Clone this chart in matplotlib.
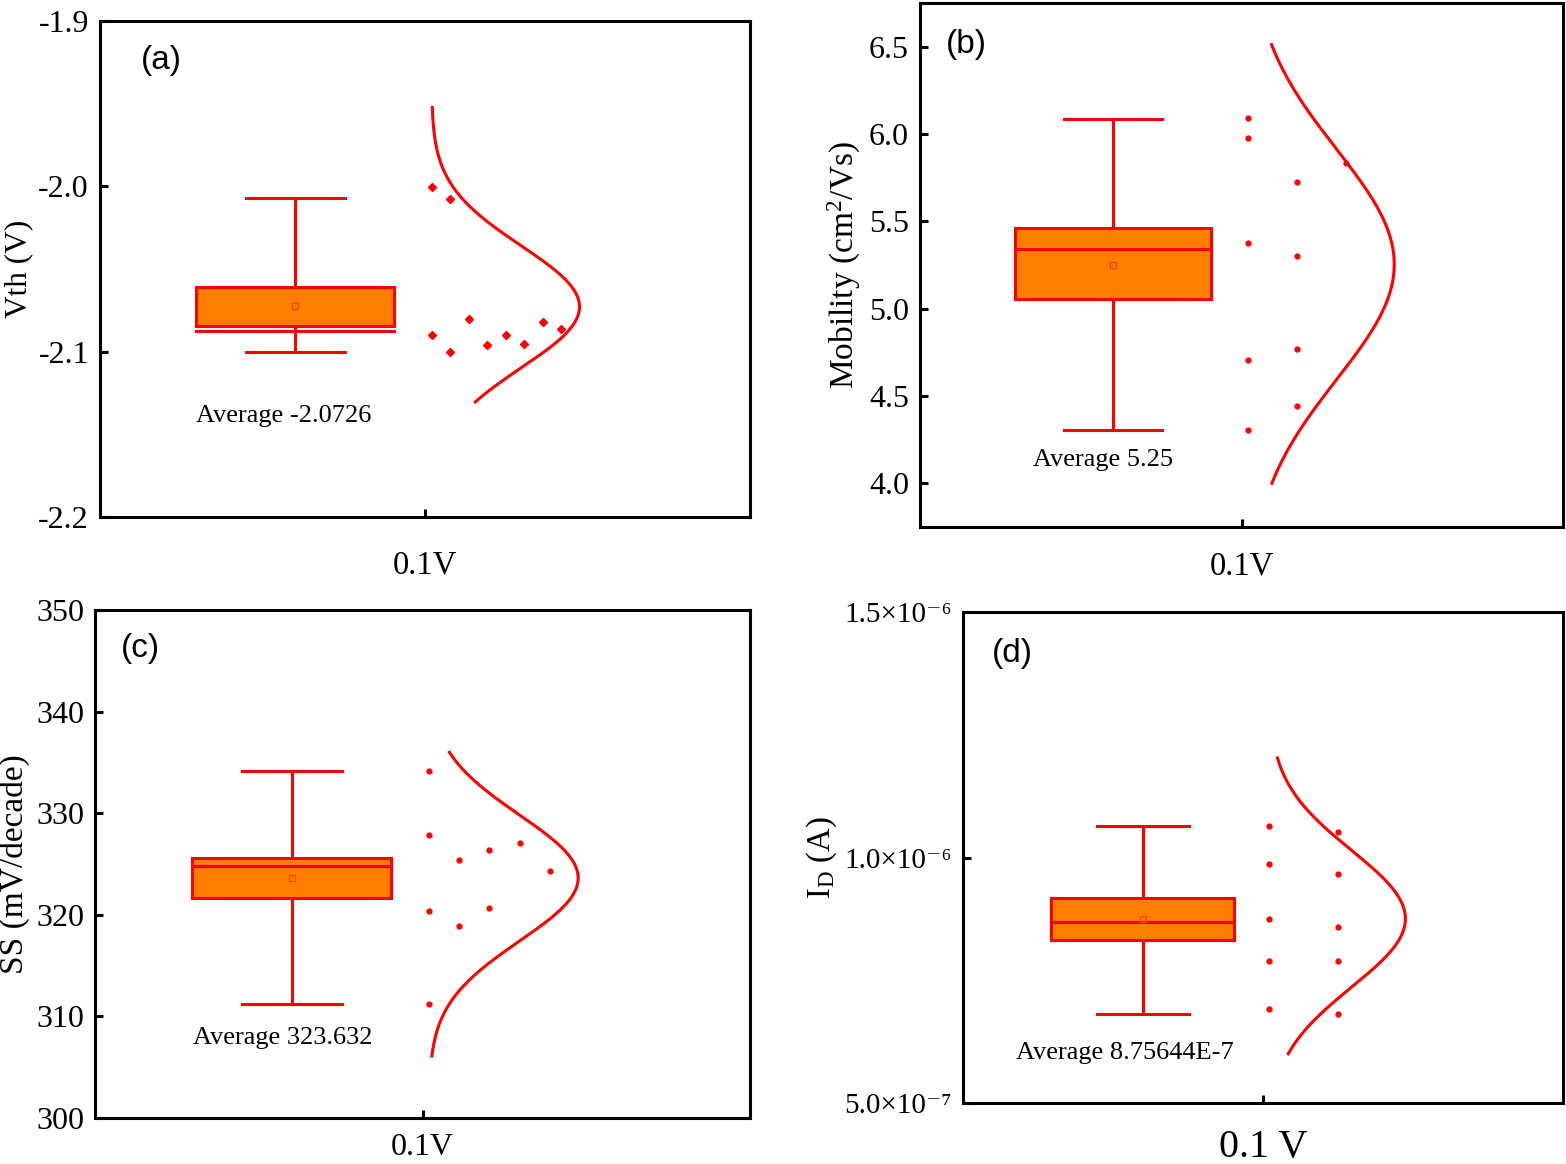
import numpy as np
import matplotlib
matplotlib.use('Agg')
import matplotlib.pyplot as plt

plt.rcParams['font.family'] = ['Liberation Serif', 'DejaVu Serif']
plt.rcParams['mathtext.fontset'] = 'custom'
plt.rcParams['mathtext.rm'] = 'Liberation Serif'
plt.rcParams['mathtext.it'] = 'Liberation Serif:italic'
plt.rcParams['mathtext.bf'] = 'Liberation Serif:bold'
plt.rcParams['axes.unicode_minus'] = False

category = "0.1V"
category_d = "0.1 V"

# ---- (a) Vth ----
vth_values = [-2.0004, -2.0074, -2.0801, -2.0901, -2.1002, -2.0961, -2.0901, -2.0952, -2.0823, -2.0863]
vth_columns = [0, 1, 2, 0, 1, 3, 4, 5, 6, 7]
vth_whisker = [-2.1002, -2.0072]
vth_box = [-2.0845, -2.0611]
vth_median = -2.0875
vth_mean = -2.0726
vth_curve_range = [-2.1304, -1.9523]
vth_yticks = [-2.2, -2.1, -2.0, -1.9]
vth_yticklabels = ["-2.2", "-2.1", "-2.0", "-1.9"]

# ---- (b) Mobility ----
mob_values = [6.090, 5.979, 5.835, 5.726, 5.377, 5.303, 4.767, 4.708, 4.442, 4.303]
mob_columns = [0, 0, 2, 1, 0, 1, 1, 0, 1, 0]
mob_whisker = [4.303, 6.088]
mob_box = [5.053, 5.459]
mob_median = 5.344
mob_mean = 5.25
mob_curve_range = [4.0, 6.511]
mob_yticks = [4.0, 4.5, 5.0, 5.5, 6.0, 6.5]
mob_yticklabels = ["4.0", "4.5", "5.0", "5.5", "6.0", "6.5"]

# ---- (c) SS ----
ss_values = [334.15, 327.82, 326.38, 327.04, 325.36, 324.28, 320.70, 320.37, 318.93, 311.22]
ss_columns = [0, 0, 2, 3, 1, 4, 2, 0, 1, 0]
ss_whisker = [311.22, 334.15]
ss_box = [321.65, 325.59]
ss_median = 324.8
ss_mean = 323.632
ss_curve_range = [306.1, 336.0]
ss_yticks = [300, 310, 320, 330, 340, 350]
ss_yticklabels = ["300", "310", "320", "330", "340", "350"]

# ---- (d) ID ----
id_values = [1.0649e-6, 1.0513e-6, 0.9864e-6, 0.9661e-6, 0.8757e-6, 0.8586e-6, 0.7884e-6, 0.7884e-6, 0.6917e-6, 0.6815e-6]
id_columns = [0, 1, 0, 1, 0, 1, 0, 1, 0, 1]
id_whisker = [0.6815e-6, 1.0649e-6]
id_box = [0.8316e-6, 0.9168e-6]
id_median = 0.8682e-6
id_mean = 0.875644e-6
id_curve_range = [0.6004e-6, 1.2028e-6]
id_yticks = [5.0e-7, 1.0e-6, 1.5e-6]
id_yticklabels = ["5.0\u00d710\u207b\u2077", "1.0\u00d710\u207b\u2076", "1.5\u00d710\u207b\u2076"]

RED = '#FF0000'
ORANGE = '#FF8000'
LW = 2.2

fig = plt.figure(figsize=(15.66, 11.64), dpi=100)


def panel(rect, values, columns, col_step, whisker, box, median, mean, curve_range,
          ylim, yticks, yticklabels, ylabel, ylabel_size, letter, avg_text, avg_pos, letter_pos,
          marker, msize, xlabel, xlabel_size, xpad, ytick_size=23):
    ax = fig.add_axes(rect)
    ax.set_xlim(0, 2)
    ax.set_ylim(*ylim)
    xc = 0.6
    bw = 0.61
    # whisker
    ax.plot([xc, xc], [whisker[0], box[0]], color=RED, lw=LW, zorder=2, solid_capstyle='butt')
    ax.plot([xc, xc], [box[1], whisker[1]], color=RED, lw=LW, zorder=2, solid_capstyle='butt')
    ax.plot([xc - bw / 4, xc + bw / 4], [whisker[0]] * 2, color=RED, lw=LW, zorder=2)
    ax.plot([xc - bw / 4, xc + bw / 4], [whisker[1]] * 2, color=RED, lw=LW, zorder=2)
    # box
    rectp = plt.Rectangle((xc - bw / 2, box[0]), bw, box[1] - box[0], facecolor=ORANGE,
                          edgecolor=RED, lw=LW, zorder=3)
    ax.add_patch(rectp)
    ax.plot([xc - bw / 2, xc + bw / 2], [median] * 2, color=RED, lw=LW, zorder=4)
    ax.plot([xc], [mean], marker='s', ms=5, mfc='none', mec='#FF4000', mew=1.0, zorder=5)
    # points
    vals = np.array(values)
    xs = 1.02 + col_step * np.array(columns)
    ax.plot(xs, vals, linestyle='none', marker=marker, ms=msize, color=RED, mec=RED, zorder=4)
    # normal curve
    mu = vals.mean()
    sd = vals.std(ddof=1)
    yy = np.linspace(curve_range[0], curve_range[1], 300)
    xx = 1.02 + 0.455 * np.exp(-0.5 * ((yy - mu) / sd) ** 2)
    ax.plot(xx, yy, color=RED, lw=LW, zorder=4)
    # axes styling
    ax.set_xticks([1])
    ax.set_xticklabels([xlabel], fontsize=xlabel_size)
    ax.set_yticks(yticks)
    ax.set_yticklabels(yticklabels, fontsize=ytick_size)
    ax.tick_params(axis='both', direction='in', length=6, width=LW)
    ax.tick_params(axis='x', pad=xpad)
    ax.tick_params(axis='y', pad=8)
    for s in ax.spines.values():
        s.set_linewidth(LW)
    ax.set_ylabel(ylabel, fontsize=ylabel_size)
    ax.text(letter_pos[0], letter_pos[1], letter, transform=ax.transAxes, fontsize=24,
            family='Liberation Sans', ha='center', va='center')
    ax.text(avg_pos[0], avg_pos[1], avg_text, transform=ax.transAxes, fontsize=19,
            ha='center', va='center')
    return ax


panel([0.0639, 0.5558, 0.4151, 0.4261], vth_values, vth_columns, 0.057, vth_whisker, vth_box,
      vth_median, vth_mean, vth_curve_range, (-2.2, -1.9), vth_yticks, vth_yticklabels,
      "Vth (V)", 22.5, "(a)", "Average -2.0726", (0.282, 0.203), (0.095, 0.92), 'D', 4.5,
      category, 23.5, 24)

panel([0.5875, 0.5473, 0.4106, 0.4502], mob_values, mob_columns, 0.152, mob_whisker, mob_box,
      mob_median, mob_mean, mob_curve_range, (3.75, 6.75), mob_yticks, mob_yticklabels,
      r"Mobility (cm$^{\mathregular{2}}$/Vs)", 24, "(b)", "Average 5.25", (0.285, 0.128), (0.072, 0.92),
      'o', 3.5, category, 23.5, 17)

panel([0.0607, 0.0395, 0.4183, 0.4364], ss_values, ss_columns, 0.092, ss_whisker, ss_box,
      ss_median, ss_mean, ss_curve_range, (300, 350), ss_yticks, ss_yticklabels,
      "SS (mV/decade)", 24, "(c)", "Average 323.632", (0.287, 0.157), (0.07, 0.925),
      'o', 3.5, category, 23, 11)

panel([0.6149, 0.0524, 0.3831, 0.4218], id_values, id_columns, 0.229, id_whisker, id_box,
      id_median, id_mean, id_curve_range, (5.0e-7, 1.5e-6), id_yticks, id_yticklabels,
      r"I$_{\mathregular{D}}$ (A)", 23.5, "(d)", "Average 8.75644E-7", (0.27, 0.102), (0.082, 0.916),
      'o', 3.5, category_d, 29, 19, ytick_size=21)

fig.savefig('out.png', dpi=100)
